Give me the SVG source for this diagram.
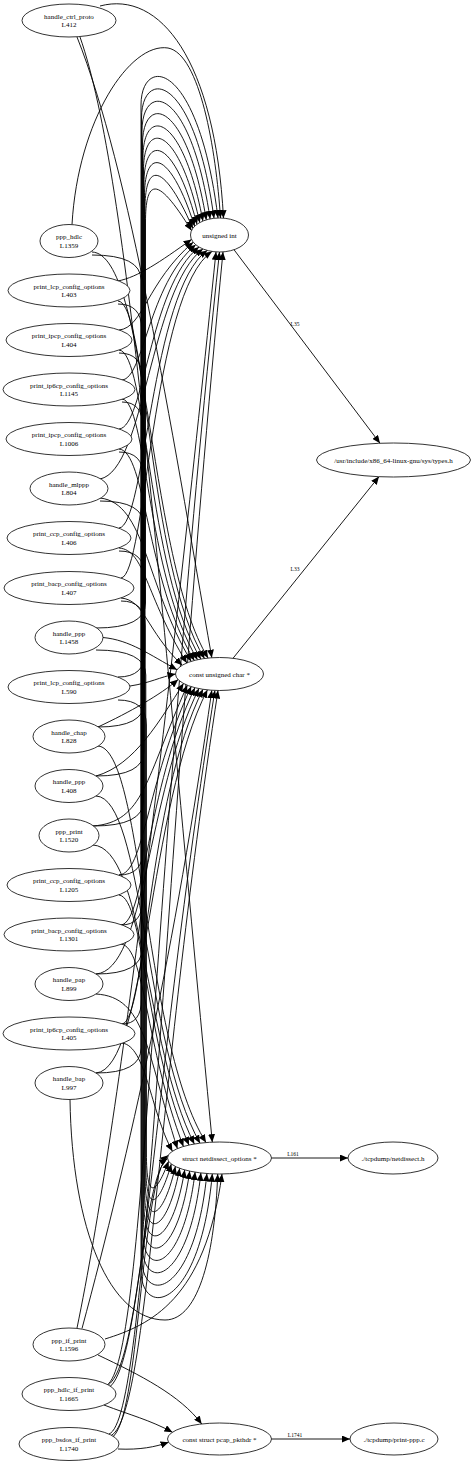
<svg xmlns="http://www.w3.org/2000/svg" width="474" height="1464" viewBox="0 0 474 1464">
<defs>
<marker id="ah" markerWidth="8" markerHeight="7" refX="8" refY="3.5" orient="auto" markerUnits="userSpaceOnUse"><path d="M0,0 L8,3.5 L0,7 z" fill="#000"/></marker>
<style>
.e path{fill:none;stroke:#000;stroke-width:0.9;marker-end:url(#ah)}
.n ellipse{fill:#fff;stroke:#000;stroke-width:0.8}
text{font-family:"Liberation Serif","Times New Roman",serif;font-size:7px;fill:#000;text-anchor:middle}
.lbl{font-size:5.5px}
</style>
</defs>
<rect width="474" height="1464" fill="#fff"/>
<g id="edges" class="e">
<!-- to unsigned int -->
<path d="M100,6 C160,-10 215,60 223.5,218.2"/>
<path d="M72,224.5 C78,120 130,42 168,48 C200,54 216,150 220.5,218"/>
<path d="M118,281 C138,277 160,262 191.5,239.4"/>
<path d="M119,330 C143,328 147,282 193.2,242.2"/>
<path d="M122,380 C144,378 148,285 195.7,244.8"/>
<path d="M119,429 C144.5,427 149,287 199,247"/>
<path d="M100,479 C145,470 150,289 202.9,248.9"/>
<path d="M119,528 C145.5,526 151,291 207.2,250.4"/>
<path d="M121,578 C146,576 152,292 212,251.4"/>
<path d="M96,628 Q145.5,628 145.5,603 L145.5,222 C145.5,172 161.5,182 191.5,230.6"/>
<path d="M118,677 Q145,677 145,652 L145,209 C145,159 165,164 192.8,228.4"/>
<path d="M98,727 Q144.5,727 144.5,702 L144.5,196 C144.5,146 170,149 194.6,226.2"/>
<path d="M96,776 Q144,776 144,751 L144,183 C144,133 174,136 197,224.3"/>
<path d="M93,826 Q143.5,826 143.5,801 L143.5,170 C143.5,120 178,123 199.7,222.6"/>
<path d="M119,875 Q143,875 143,850 L143,157 C143,107 182,110 202.9,221.1"/>
<path d="M121,925 Q142.5,925 142.5,900 L142.5,144 C142.5,94 186,97 206.3,219.9"/>
<path d="M96,974 Q142,974 142,949 L142,131 C142,81 190,84 210.1,218.9"/>
<path d="M122,1024 Q141.5,1024 141.5,999 L141.5,118 C141.5,68 194,71 214,218.3"/>
<path d="M96,1073 Q141,1073 141,1048 L141,105 C141,55 198,58 218,218"/>
<path d="M77,1328 C120,1120 170,700 216,251.9"/>
<path d="M107,1385 C145,1360 150,900 219.5,252"/>
<path d="M109,1434 C148,1420 160,900 223,251.9"/>
<!-- to const unsigned char * -->
<path d="M77,37 C130,170 170,420 211.8,657.7"/>
<path d="M92,252 C148,254 148,560 208.1,658.1"/>
<path d="M118,301 C147.5,303 147.5,565 204.5,658.5"/>
<path d="M119,350 C147,352 147,570 200.9,659.1"/>
<path d="M122,399 C146.5,401 146.5,575 197.5,659.7"/>
<path d="M119,449 C146,451 146,580 194.3,660.5"/>
<path d="M100,498 C145.5,503 145.5,585 191.2,661.4"/>
<path d="M119,548 C145,550 145,595 186.8,663"/>
<path d="M121,598 C144.5,600 146,630 182.2,665.3"/>
<path d="M103,637.5 C130,640 150,655 177,669.7"/>
<path d="M130,686 C150,683 160,677 175.5,674"/>
<path d="M98,727 C130,712 160,695 178.1,679.6"/>
<path d="M96,776 C135,765 160,720 183.5,683.5"/>
<path d="M93,826 C144,822 145,780 187.3,685.3"/>
<path d="M119,875 C144.5,873 145.5,785 191.2,686.6"/>
<path d="M121,925 C145,922 146,790 194.9,687.7"/>
<path d="M96,974 C145.5,970 146.5,795 198.9,688.6"/>
<path d="M122,1024 C146,1021 147,800 203,689.3"/>
<path d="M96,1073 C146.5,1069 148,805 207.4,689.9"/>
<path d="M82,1328.5 C130,1150 175,950 211.8,690.3"/>
<path d="M107,1386 C145,1362 150,1100 214.9,690.4"/>
<path d="M110,1436 C148,1422 155,1100 218,690.5"/>
<!-- to struct netdissect_options * -->
<path d="M80,37 C130,180 160,600 212.3,1142.2"/>
<path d="M92,255 Q141,255 141,280 L141,1270 C141,1320 200.3,1310 212.3,1173.8"/>
<path d="M118,304 Q141.6,304 141.6,329 L141.6,1257 C141.6,1307 194.9,1297 206.9,1173.5"/>
<path d="M119,353 Q142.2,353 142.2,378 L142.2,1244 C142.2,1294 188.9,1284 200.9,1172.9"/>
<path d="M122,402 Q142.8,402 142.8,427 L142.8,1231 C142.8,1281 183.1,1271 195.1,1172.1"/>
<path d="M119,452 Q143.4,452 143.4,477 L143.4,1218 C143.4,1268 177.7,1258 189.7,1171.1"/>
<path d="M100,501 Q144,501 144,526 L144,1205 C144,1255 172.7,1245 184.7,1169.9"/>
<path d="M119,551 Q144.6,551 144.6,576 L144.6,1192 C144.6,1242 167.7,1232 179.7,1168.3"/>
<path d="M121,601 Q145.2,601 145.2,626 L145.2,1179 C145.2,1229 163.4,1219 175.4,1166.5"/>
<path d="M96,650 Q145.8,650 145.8,675 L145.8,1166 C145.8,1216 159.3,1206 171.3,1164"/>
<path d="M118,700 Q146.4,700 146.4,725 L146.4,1153 C146.4,1203 156.6,1193 168.6,1161.3"/>
<path d="M98,746 C143,749 143,1042 206,1142.5"/>
<path d="M96,796 C143.5,798 143.5,1043 200,1143.2"/>
<path d="M93,845 C144,848 144,1044 194.3,1144"/>
<path d="M119,895 C144.5,898 144.5,1045 189,1145"/>
<path d="M121,944 C145,947 145,1046 183.4,1146.5"/>
<path d="M96,994 C145.5,997 145.5,1049 177.4,1148.6"/>
<path d="M122,1043 C146,1046 150,1110 172.4,1151.2"/>
<path d="M70,1099.5 C72,1230 110,1320 165,1320 C200,1320 215,1250 217.7,1174"/>
<path d="M105,1339 C150,1325 205,1300 222,1174"/>
<path d="M108,1388 C138,1372 142,1175 167.5,1158.6"/>
<path d="M111,1438 C140,1425 140,1180 168.3,1155.2"/>
<!-- to const struct pcap_pkthdr * -->
<path d="M98,1355 C140,1375 180,1395 201.7,1424"/>
<path d="M104,1405 C130,1415 150,1420 172.4,1432.2"/>
<path d="M118,1449 C140,1450 155,1447 168.6,1442.3"/>
<!-- right side -->
<path d="M234,249.7 L380,443.3"/>
<path d="M233,658.3 L379,476.6"/>
<path d="M271.5,1158 L348,1158"/>
<path d="M271.5,1439 L350,1439"/>
<text class="lbl" x="295" y="326">L35</text>
<text class="lbl" x="295" y="571">L33</text>
<text class="lbl" x="293" y="1156">L161</text>
<text class="lbl" x="295" y="1437">L1741</text>
</g>
<g id="n1" class="n"><ellipse cx="69" cy="20.5" rx="47" ry="16.5"/><text x="69" y="18.5">handle_ctrl_proto</text><text x="69" y="27">L412</text></g>
<g id="n2" class="n"><ellipse cx="69" cy="241" rx="29" ry="16.5"/><text x="69" y="239">ppp_hdlc</text><text x="69" y="247.5">L1359</text></g>
<g id="n3" class="n"><ellipse cx="69" cy="290.5" rx="61" ry="16.5"/><text x="69" y="288.5">print_lcp_config_options</text><text x="69" y="297">L403</text></g>
<g id="n4" class="n"><ellipse cx="69" cy="340" rx="63" ry="16.5"/><text x="69" y="338">print_ipcp_config_options</text><text x="69" y="346.5">L404</text></g>
<g id="n5" class="n"><ellipse cx="69" cy="389.5" rx="66" ry="16.5"/><text x="69" y="387.5">print_ip6cp_config_options</text><text x="69" y="396">L1145</text></g>
<g id="n6" class="n"><ellipse cx="69" cy="439" rx="63" ry="16.5"/><text x="69" y="437">print_ipcp_config_options</text><text x="69" y="445.5">L1006</text></g>
<g id="n7" class="n"><ellipse cx="69" cy="488.5" rx="39" ry="16.5"/><text x="69" y="486.5">handle_mlppp</text><text x="69" y="495">L804</text></g>
<g id="n8" class="n"><ellipse cx="69" cy="538" rx="62" ry="16.5"/><text x="69" y="536">print_ccp_config_options</text><text x="69" y="544.5">L406</text></g>
<g id="n9" class="n"><ellipse cx="69" cy="588" rx="65" ry="16.5"/><text x="69" y="586">print_bacp_config_options</text><text x="69" y="594.5">L407</text></g>
<g id="n10" class="n"><ellipse cx="69" cy="637.5" rx="34" ry="16.5"/><text x="69" y="635.5">handle_ppp</text><text x="69" y="644">L1458</text></g>
<g id="n11" class="n"><ellipse cx="69" cy="687" rx="61" ry="16.5"/><text x="69" y="685">print_lcp_config_options</text><text x="69" y="693.5">L590</text></g>
<g id="n12" class="n"><ellipse cx="69" cy="736.5" rx="36" ry="16.5"/><text x="69" y="734.5">handle_chap</text><text x="69" y="743">L828</text></g>
<g id="n13" class="n"><ellipse cx="69" cy="786" rx="34" ry="16.5"/><text x="69" y="784">handle_ppp</text><text x="69" y="792.5">L408</text></g>
<g id="n14" class="n"><ellipse cx="69" cy="835.5" rx="30" ry="16.5"/><text x="69" y="833.5">ppp_print</text><text x="69" y="842">L1520</text></g>
<g id="n15" class="n"><ellipse cx="69" cy="885" rx="62" ry="16.5"/><text x="69" y="883">print_ccp_config_options</text><text x="69" y="891.5">L1205</text></g>
<g id="n16" class="n"><ellipse cx="69" cy="934.5" rx="65" ry="16.5"/><text x="69" y="932.5">print_bacp_config_options</text><text x="69" y="941">L1301</text></g>
<g id="n17" class="n"><ellipse cx="69" cy="984" rx="34" ry="16.5"/><text x="69" y="982">handle_pap</text><text x="69" y="990.5">L899</text></g>
<g id="n18" class="n"><ellipse cx="69" cy="1033.5" rx="66" ry="16.5"/><text x="69" y="1031.5">print_ip6cp_config_options</text><text x="69" y="1040">L405</text></g>
<g id="n19" class="n"><ellipse cx="69" cy="1083" rx="34" ry="16.5"/><text x="69" y="1081">handle_bap</text><text x="69" y="1089.5">L997</text></g>
<g id="n20" class="n"><ellipse cx="69" cy="1344.5" rx="36" ry="16.5"/><text x="69" y="1342.5">ppp_if_print</text><text x="69" y="1351">L1596</text></g>
<g id="n21" class="n"><ellipse cx="69" cy="1394" rx="47" ry="16.5"/><text x="69" y="1392">ppp_hdlc_if_print</text><text x="69" y="1400.5">L1665</text></g>
<g id="n22" class="n"><ellipse cx="69" cy="1444" rx="50" ry="16.5"/><text x="69" y="1442">ppp_bsdos_if_print</text><text x="69" y="1450.5">L1740</text></g>
<g id="t_uint" class="n"><ellipse cx="219.5" cy="235" rx="29" ry="17"/><text x="219.5" y="237.5">unsigned int</text></g>
<g id="t_uchar" class="n"><ellipse cx="219.5" cy="674" rx="44" ry="16.5"/><text x="219.5" y="676.5">const unsigned char *</text></g>
<g id="t_ndo" class="n"><ellipse cx="219.5" cy="1158" rx="52" ry="16"/><text x="219.5" y="1160.5">struct netdissect_options *</text></g>
<g id="t_pcap" class="n"><ellipse cx="219.5" cy="1439" rx="52" ry="16"/><text x="219.5" y="1441.5">const struct pcap_pkthdr *</text></g>
<g id="f_types" class="n"><ellipse cx="393.5" cy="460" rx="77" ry="17"/><text x="393.5" y="462.5">/usr/include/x86_64-linux-gnu/sys/types.h</text></g>
<g id="f_nd" class="n"><ellipse cx="393" cy="1158" rx="45" ry="16"/><text x="393" y="1160.5">./tcpdump/netdissect.h</text></g>
<g id="f_ppp" class="n"><ellipse cx="394" cy="1439" rx="44" ry="16"/><text x="394" y="1441.5">./tcpdump/print-ppp.c</text></g>
</svg>
